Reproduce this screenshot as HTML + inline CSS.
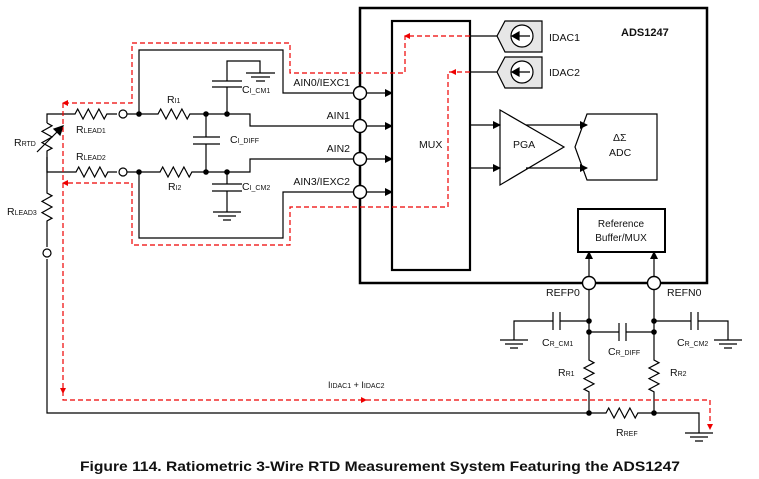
<!DOCTYPE html>
<html><head><meta charset="utf-8"><style>
html,body{margin:0;padding:0;background:#fff;}
svg{display:block;}
text{font-family:"Liberation Sans",Arial,sans-serif;fill:#111;}
.s{font-size:7px;}
</style></head><body>
<svg width="759" height="479" viewBox="0 0 759 479" xmlns="http://www.w3.org/2000/svg">
<defs>
<marker id="ab" markerWidth="8" markerHeight="8" refX="7" refY="4" orient="auto" markerUnits="userSpaceOnUse"><path d="M0,0 L8,4 L0,8 z" fill="#000"/></marker>
</defs>
<g fill="none" stroke="#000" stroke-width="1.2">
<rect x="360" y="8" width="347" height="275" stroke-width="2.5"/>
<rect x="392" y="21" width="78" height="249" stroke-width="2.2"/>
<path d="M497,36 L505,21 L542,21 L542,52 L505,52 Z" fill="#e6e6e6"/>
<circle cx="522" cy="36" r="11" fill="#fff"/>
<path d="M497,72 L505,57 L542,57 L542,88 L505,88 Z" fill="#e6e6e6"/>
<circle cx="522" cy="72" r="11" fill="#fff"/>
<line x1="530" y1="36" x2="513" y2="36"/><path d="M512,36 l7,-4 v8z" fill="#000"/>
<line x1="530" y1="72" x2="513" y2="72"/><path d="M512,72 l7,-4 v8z" fill="#000"/>
<line x1="470" y1="36" x2="497" y2="36"/>
<line x1="470" y1="72" x2="497" y2="72"/>
<line x1="366" y1="93" x2="392" y2="93" marker-end="url(#ab)"/>
<line x1="366" y1="126" x2="392" y2="126" marker-end="url(#ab)"/>
<line x1="366" y1="159" x2="392" y2="159" marker-end="url(#ab)"/>
<line x1="366" y1="192" x2="392" y2="192" marker-end="url(#ab)"/>
<path d="M500,110 L564,147 L500,185 Z"/>
<line x1="470" y1="125" x2="500" y2="125" marker-end="url(#ab)"/>
<line x1="470" y1="168" x2="500" y2="168" marker-end="url(#ab)"/>
<line x1="526" y1="125" x2="587" y2="125" marker-end="url(#ab)"/>
<line x1="526" y1="168" x2="587" y2="168" marker-end="url(#ab)"/>
<path d="M587,114 L657,114 L657,180 L587,180 L575,147 Z"/>
<rect x="578" y="209" width="87" height="43" stroke-width="2"/>
<line x1="589" y1="277" x2="589" y2="252" marker-end="url(#ab)"/>
<line x1="654" y1="277" x2="654" y2="252" marker-end="url(#ab)"/>
<path d="M47,123 V114 H75 l2.7,-5 l5.3,10 l5.3,-10 l5.3,10 l5.3,-10 l5.3,10 l2.7,-5 H117"/>
<path d="M47,157 V172 H76 l2.7,-5 l5.3,10 l5.3,-10 l5.3,10 l5.3,-10 l5.3,10 l2.7,-5 H117"/>
<path d="M47,123 l5,2.8 l-10,5.6 l10,5.6 l-10,5.6 l10,5.6 l-5,2.8 V193 l5,2.8 l-10,5.6 l10,5.6 l-10,5.6 l10,5.6 l-5,2.8 V247"/>
<line x1="37" y1="152" x2="60" y2="129"/><path d="M63,126 l-9,3 l6,6z" fill="#000"/>
<path d="M47,259 V413 H588"/>
<circle cx="47" cy="253" r="4" fill="#fff"/>
<circle cx="123" cy="114" r="4" fill="#fff"/>
<circle cx="123" cy="172" r="4" fill="#fff"/>
<path d="M127,114 H158 l2.7,-5 l5.3,10 l5.3,-10 l5.3,10 l5.3,-10 l5.3,10 l2.7,-5 H250 V126 H354"/>
<path d="M127,172 H160 l2.7,-5 l5.3,10 l5.3,-10 l5.3,10 l5.3,-10 l5.3,10 l2.7,-5 H250 V159 H354" />
<path d="M139,114 V50 H283 V93 H354"/>
<path d="M139,172 V238 H283 V192 H354"/>
<path d="M206,114 V137 M193,137 H220 M193,144 H220 M206,144 V172"/>
<path d="M227,114 V87 M212,87 H242 M212,81 H242 M227,81 V61 H260 V73 M246,73 H275 M251,77 H270 M256,81 H265"/>
<path d="M227,172 V184 M212,184 H242 M212,191 H242 M227,191 V212 M213,212 H241 M218,216 H236 M223,220 H231"/>
<g fill="#fff" stroke-width="1.4">
<circle cx="360" cy="93" r="6.5"/><circle cx="360" cy="126" r="6.5"/><circle cx="360" cy="159" r="6.5"/><circle cx="360" cy="192" r="6.5"/>
<circle cx="589" cy="283" r="6.5"/><circle cx="654" cy="283" r="6.5"/>
</g>
<path d="M589,289 V360 l5,2.7 l-10,5.3 l10,5.3 l-10,5.3 l10,5.3 l-10,5.3 l5,2.7 V413"/>
<path d="M654,289 V360 l5,2.7 l-10,5.3 l10,5.3 l-10,5.3 l10,5.3 l-10,5.3 l5,2.7 V413"/>
<path d="M589,321 H560 M553,321 H514 V340 M500,340 H528 M505,344 H523 M510,348 H518 M553,312 V330 M560,312 V330"/>
<path d="M589,332 H619 M626,332 H654 M619,323 V341 M626,323 V341"/>
<path d="M654,321 H691 M698,321 H728 V340 M714,340 H742 M719,344 H737 M724,348 H732 M691,312 V330 M698,312 V330"/>
<path d="M589,413 H606 l2.7,-5 l5.3,10 l5.3,-10 l5.3,10 l5.3,-10 l5.3,10 l2.7,-5 H699 V433 M685,433 H713 M690,437 H708 M695,441 H703"/>
</g>
<g fill="#000">
<circle cx="139" cy="114" r="2.8"/><circle cx="206" cy="114" r="2.8"/><circle cx="227" cy="114" r="2.8"/>
<circle cx="139" cy="172" r="2.8"/><circle cx="206" cy="172" r="2.8"/><circle cx="227" cy="172" r="2.8"/>
<circle cx="589" cy="321" r="2.8"/><circle cx="589" cy="332" r="2.8"/><circle cx="654" cy="321" r="2.8"/><circle cx="654" cy="332" r="2.8"/>
<circle cx="589" cy="413" r="2.8"/><circle cx="654" cy="413" r="2.8"/>
</g>
<g fill="none" stroke="#e00" stroke-width="1.2" stroke-dasharray="5,3">
<path d="M470,36 H405 V73 H290 V43 H132 V103 H66"/>
<path d="M470,72 H448 V207 H290 V245 H132 V183 H66"/>
<path d="M63,103 V400 H710 V425"/>
</g>
<g fill="#e00">
<path d="M404,36 l6,-3 v6z"/><path d="M450,72 l6,-3 v6z"/>
<path d="M62,103 l6,-3 v6z"/><path d="M62,183 l6,-3 v6z"/>
<path d="M63,394 l-3,-6 h6z"/><path d="M367,400 l-6,-3 v6z"/><path d="M710,430 l-3,-6 h6z"/>
</g>
<g font-size="10.5">
<text x="549" y="41">IDAC1</text><text x="549" y="76">IDAC2</text>
<text x="621" y="36" font-weight="bold" font-size="11">ADS1247</text>
<text x="419" y="148">MUX</text>
<text x="513" y="148">PGA</text>
<text x="613" y="141">ΔΣ</text><text x="609" y="156">ADC</text>
<text x="621" y="227" text-anchor="middle" font-size="10">Reference</text>
<text x="621" y="241" text-anchor="middle" font-size="10">Buffer/MUX</text>
<text x="350" y="86" text-anchor="end">AIN0/IEXC1</text>
<text x="350" y="119" text-anchor="end">AIN1</text>
<text x="350" y="152" text-anchor="end">AIN2</text>
<text x="350" y="185" text-anchor="end">AIN3/IEXC2</text>
<text x="546" y="296">REFP0</text><text x="667" y="296">REFN0</text>
<text x="14" y="146">R<tspan class="s">RTD</tspan></text>
<text x="76" y="133">R<tspan class="s">LEAD1</tspan></text>
<text x="76" y="160">R<tspan class="s">LEAD2</tspan></text>
<text x="7" y="215">R<tspan class="s">LEAD3</tspan></text>
<text x="167" y="103">R<tspan class="s">I1</tspan></text>
<text x="168" y="190">R<tspan class="s">I2</tspan></text>
<text x="242" y="93">C<tspan class="s">I_CM1</tspan></text>
<text x="230" y="143">C<tspan class="s">I_DIFF</tspan></text>
<text x="242" y="190">C<tspan class="s">I_CM2</tspan></text>
<text x="542" y="346">C<tspan class="s">R_CM1</tspan></text>
<text x="608" y="355">C<tspan class="s">R_DIFF</tspan></text>
<text x="677" y="346">C<tspan class="s">R_CM2</tspan></text>
<text x="558" y="376">R<tspan class="s">R1</tspan></text>
<text x="670" y="376">R<tspan class="s">R2</tspan></text>
<text x="616" y="436">R<tspan class="s">REF</tspan></text>
<text x="328" y="388" font-size="9">I<tspan class="s">IDAC1</tspan> + I<tspan class="s">IDAC2</tspan></text>
</g>
<text x="80" y="471" font-size="14" font-weight="bold" textLength="600" lengthAdjust="spacingAndGlyphs">Figure 114.  Ratiometric 3-Wire RTD Measurement System Featuring the ADS1247</text>
</svg>
</body></html>
